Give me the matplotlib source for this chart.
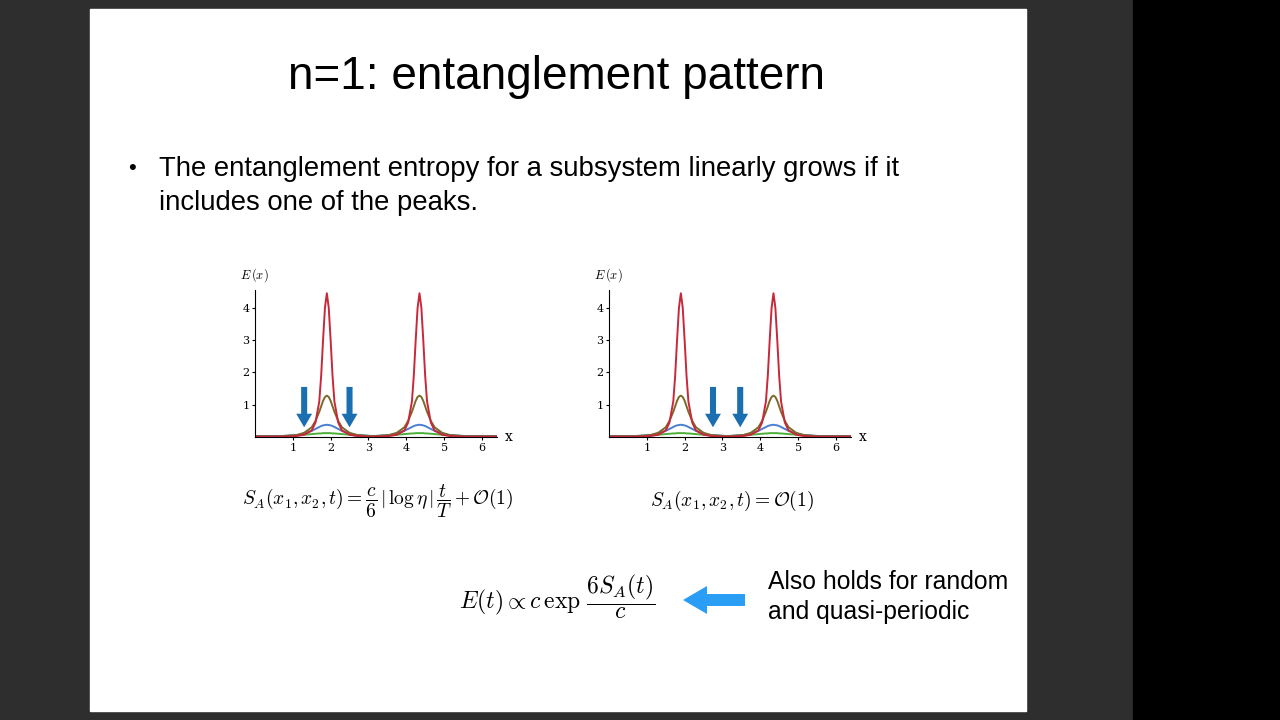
import numpy as np
import matplotlib
matplotlib.use('Agg')
import matplotlib.pyplot as plt
from matplotlib.patches import Rectangle, FancyArrow

plt.rcParams['mathtext.fontset'] = 'cm'

# peak profile samples, offsets from peak centre
offsets = [0, 0.05, 0.1, 0.15, 0.2, 0.3, 0.4, 0.6, 0.8, 1.2]
red_prof = [4.45, 4.0, 3.0, 1.9, 1.1, 0.45, 0.2, 0.07, 0.03, 0.01]
brown_prof = [1.28, 1.24, 1.12, 0.95, 0.78, 0.5, 0.3, 0.13, 0.06, 0.02]
blue_prof = [0.38, 0.37, 0.36, 0.34, 0.31, 0.25, 0.19, 0.11, 0.06, 0.03]
green_prof = [0.12, 0.12, 0.12, 0.11, 0.11, 0.10, 0.09, 0.07, 0.05, 0.03]
peak_centres = [1.9, 4.35]
left_arrows = [1.3, 2.5]
right_arrows = [2.75, 3.47]

profiles = {'green': green_prof, 'blue': blue_prof, 'brown': brown_prof, 'red': red_prof}
colors = {'green': '#4caf3a', 'blue': '#4a7fd4', 'brown': '#7a6a2a', 'red': '#c8283a'}

def build(prof):
    d = np.array(offsets)
    p = np.array(prof)
    xs, ys = [0.0], [p[-1]]
    for c in peak_centres:
        xs += list(c - d[::-1]) + list(c + d[1:])
        ys += list(p[::-1]) + list(p[1:])
    xs.append(6.4); ys.append(p[-1])
    return np.array(xs), np.array(ys)

W, H = 1280, 720
fig = plt.figure(figsize=(12.8, 7.2), dpi=100)
fig.patch.set_facecolor('#2e2e2e')
fig.add_artist(Rectangle((1133/W, 0), 1 - 1133/W, 1, color='black', transform=fig.transFigure, zorder=-2))
fig.add_artist(Rectangle((90/W, 9/H), (1026-90)/W, (711-9)/H, color='white', transform=fig.transFigure, zorder=-2))

sans = 'Liberation Sans'
fig.text(557/W, 1 - 77/H, 'n=1: entanglement pattern', ha='center', va='center', fontsize=33, family=sans)
fig.text(128/W, 1 - 169/H, '•', ha='left', va='center', fontsize=16, family=sans)
fig.text(159/W, 1 - 186/H, 'The entanglement entropy for a subsystem linearly grows if it\nincludes one of the peaks.',
         ha='left', va='center', fontsize=19.8, family=sans, linespacing=1.38)

def panel(x0, arrows):
    ax = fig.add_axes([x0/W, (720-437)/H, 242/W, 147/H])
    ax.set_xlim(0, 6.4); ax.set_ylim(0, 4.55)
    for name in ['green', 'blue', 'brown', 'red']:
        xs, ys = build(profiles[name])
        ax.plot(xs, ys, color=colors[name], lw=1.4)
    for a in arrows:
        ax.add_patch(FancyArrow(a, 1.55, 0, -1.25, width=0.16, head_width=0.42, head_length=0.42,
                                length_includes_head=True, color='#1a6fb0', lw=0, zorder=5))
    ax.spines['top'].set_visible(False); ax.spines['right'].set_visible(False)
    ax.set_xticks([1, 2, 3, 4, 5, 6]); ax.set_yticks([1, 2, 3, 4])
    ax.tick_params(labelsize=8, length=2, pad=2)
    for t in ax.get_xticklabels() + ax.get_yticklabels():
        t.set_family('DejaVu Serif')
    ax.patch.set_alpha(0)
    ax.text(6.6, 0.0, 'x', fontsize=10, family='DejaVu Serif', va='center')
    ax.text(-0.4, 5.0, '$E\\,(x)$', fontsize=9, va='center')

panel(255, left_arrows)
panel(609, right_arrows)

fig.text(378/W, 1 - 501/H, r'$S_A(x_1,x_2,t)=\dfrac{c}{6}\,|\,\log\eta\,|\,\dfrac{t}{T}+\mathcal{O}(1)$',
         ha='center', va='center', fontsize=14)
fig.text(732/W, 1 - 501/H, r'$S_A(x_1,x_2,t)=\mathcal{O}(1)$', ha='center', va='center', fontsize=14)
fig.text(557/W, 1 - 597/H, r'$E(t)\propto c\,\exp\,\dfrac{6S_A(t)}{c}$', ha='center', va='center', fontsize=17)
fig.add_artist(FancyArrow(745/W, 1 - 600/H, -62/W, 0, width=12/H, head_width=28/H, head_length=24/W,
                          length_includes_head=True, color='#2a9df4', lw=0, transform=fig.transFigure))
fig.text(768/W, 1 - 597/H, 'Also holds for random\nand quasi-periodic', ha='left', va='center',
         fontsize=17.8, family=sans, linespacing=1.35)

fig.savefig('out.png', dpi=100, facecolor=fig.get_facecolor())
